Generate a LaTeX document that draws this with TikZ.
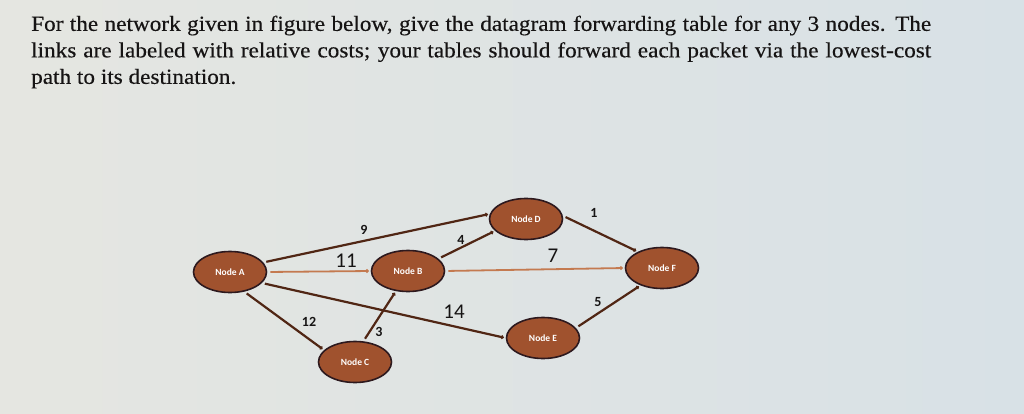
\documentclass[tikz,border=0pt]{standalone}
\usepackage{fontspec}
\setmainfont{Liberation Serif}
\newfontfamily\taskfont[FakeStretch=1.08,FakeBold=0.3]{Liberation Serif}
\newfontfamily\labelfont{Carlito}
\usetikzlibrary{shapes.geometric,arrows.meta}

\definecolor{screenleft}{RGB}{229,230,225}
\definecolor{screenright}{RGB}{216,225,230}
\definecolor{nodebrown}{RGB}{160,82,46}
\definecolor{rimdark}{RGB}{45,25,30}
\definecolor{linkdark}{RGB}{80,38,20}
\definecolor{linklight}{RGB}{196,122,80}
\definecolor{inkgrey}{RGB}{22,20,20}

\begin{document}
\begin{tikzpicture}[x=1pt,y=-1pt,
  router/.style={ellipse, draw=rimdark, line width=1.6pt, fill=nodebrown,
    minimum width=73pt, minimum height=41pt, inner sep=0pt, text=white,
    font=\labelfont\bfseries\fontsize{9.5}{11}\selectfont},
  link/.style={draw=linkdark, line width=2.2pt, -{Circle[length=3.5pt]},
    shorten <=3pt, shorten >=2pt},
  lightlink/.style={link, draw=linklight, line width=1.8pt},
  cost/.style={inner sep=0pt, text=inkgrey, font=\labelfont\bfseries\fontsize{14}{16}\selectfont},
  bigcost/.style={inner sep=0pt, text=inkgrey, font=\labelfont\fontsize{21}{23}\selectfont}]
        \useasboundingbox (0,0) rectangle (1024,414);
        \shade[left color=screenleft, right color=screenright] (0,0) rectangle (1024,414);
        \def \w {900pt} % width of a justified line

        \node[anchor=north west, inner sep=0pt, align=left, text=inkgrey,
          font=\taskfont\fontsize{21.5}{26.5}\selectfont] at (31,15.5) (task)
          {\makebox[\w][s]{For the network given in figure below, give the datagram forwarding table for any 3 nodes. The}\\
           \makebox[\w][s]{links are labeled with relative costs; your tables should forward each packet via the lowest-cost}\\
           path to its destination.};

        \node[router] at (230,272) (nA) {Node A};
        \node[router] at (408,271) (nB) {Node B};
        \node[router] at (355,362) (nC) {Node C};
        \node[router] at (526,219) (nD) {Node D};
        \node[router] at (543,338) (nE) {Node E};
        \node[router] at (662,268) (nF) {Node F};

        \foreach \src/\sa/\dst/\da/\kind in {nA/16/nD/172/link, nA/0/nB/180/lightlink,
            nA/-19/nE/180/link, nA/-54/nC/159/link, nC/68/nB/239/link, nB/22/nD/201/link,
            nD/5/nF/146/link, nB/0/nF/180/lightlink, nE/17/nF/219/link}{
          \draw[\kind] (\src.\sa) -- (\dst.\da);
        }

        \node[cost] at (364,230) (w9) {9};
        \node[bigcost] at (346,261) (w11) {11};
        \node[bigcost] at (454,312) (w14) {14};
        \node[cost] at (309,322) (w12) {12};
        \node[cost] at (379,332) (w3) {3};
        \node[cost] at (461,240) (w4) {4};
        \node[cost] at (594,213) (w1) {1};
        \node[bigcost] at (553,256) (w7) {7};
        \node[cost] at (598,302) (w5) {5};
\end{tikzpicture}
\end{document}
